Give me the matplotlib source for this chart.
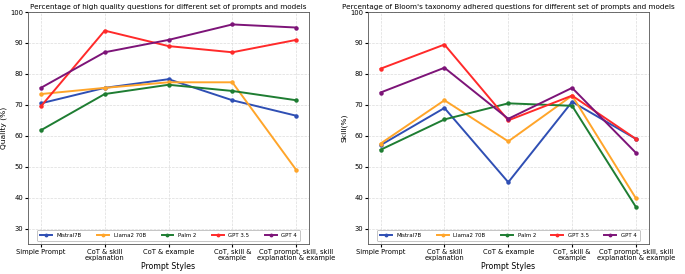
import matplotlib
matplotlib.use("Agg")
import matplotlib.pyplot as plt

# prompt styles on the x axis
prompt_styles = ["Simple Prompt", "CoT & skill\nexplanation", "CoT & example",
                 "CoT, skill &\nexample", "CoT prompt, skill, skill\nexplanation & example"]
models = ["Mistral7B", "Llama2 70B", "Palm 2", "GPT 3.5", "GPT 4"]
colors = ["#2f4fb4", "#ffa52a", "#1e7d32", "#ff2a2a", "#7d1478"]

# quality (%)
quality_mistral = [70.5, 75.5, 78.3, 71.5, 66.5]
quality_llama = [73.5, 75.5, 77.3, 77.3, 49.0]
quality_palm = [61.8, 73.5, 76.5, 74.5, 71.5]
quality_gpt35 = [69.5, 94.0, 89.0, 87.0, 91.0]
quality_gpt4 = [75.5, 87.0, 91.0, 96.0, 95.0]

# skill (%)
skill_mistral = [57.0, 69.0, 45.0, 71.0, 59.0]
skill_llama = [57.5, 71.5, 58.2, 73.0, 39.8]
skill_palm = [55.5, 65.3, 70.5, 69.7, 37.0]
skill_gpt35 = [81.7, 89.5, 65.0, 73.0, 59.0]
skill_gpt4 = [74.0, 82.0, 65.5, 75.5, 54.5]

quality = [quality_mistral, quality_llama, quality_palm, quality_gpt35, quality_gpt4]
skill = [skill_mistral, skill_llama, skill_palm, skill_gpt35, skill_gpt4]

fig = plt.figure(figsize=(6.85, 2.74), dpi=100)
ax1 = fig.add_axes([0.041, 0.109, 0.410, 0.847])
ax2 = fig.add_axes([0.537, 0.109, 0.410, 0.847])


def draw(ax, series, title, ylabel):
    x = range(len(prompt_styles))
    for vals, name, c in zip(series, models, colors):
        ax.plot(x, vals, marker="o", markersize=2.2, linewidth=1.4, color=c, label=name)
    ax.set_title(title, fontsize=5.25, pad=2)
    ax.set_ylabel(ylabel, fontsize=5.4, labelpad=2)
    ax.set_xlabel("Prompt Styles", fontsize=5.6, labelpad=1)
    ax.set_xticks(list(x))
    ax.set_xticklabels(prompt_styles, fontsize=4.9, linespacing=1.0)
    ax.set_ylim(25, 100)
    ax.set_yticks([30, 40, 50, 60, 70, 80, 90, 100])
    ax.tick_params(axis="y", labelsize=4.9, length=2, pad=1.5)
    ax.tick_params(axis="x", length=2, pad=1.5)
    ax.grid(True, linestyle="--", linewidth=0.5, color="#dcdcdc")
    for s in ax.spines.values():
        s.set_linewidth(0.6)
        s.set_color("#555555")
    leg = ax.legend(loc="lower center", ncol=5, fontsize=3.9, frameon=True, shadow=False,
                    handlelength=2.2, columnspacing=2.9, borderpad=0.6, markerscale=0.8,
                    bbox_to_anchor=(0.5, 0.0), fancybox=True, edgecolor="#999999")
    leg.get_frame().set_linewidth(0.5)


draw(ax1, quality, "Percentage of high quality questions for different set of prompts and models",
     "Quality (%)")
draw(ax2, skill, "Percentage of Bloom's taxonomy adhered questions for different set of prompts and models",
     "Skill(%)")

fig.savefig("out.png", dpi=100)
